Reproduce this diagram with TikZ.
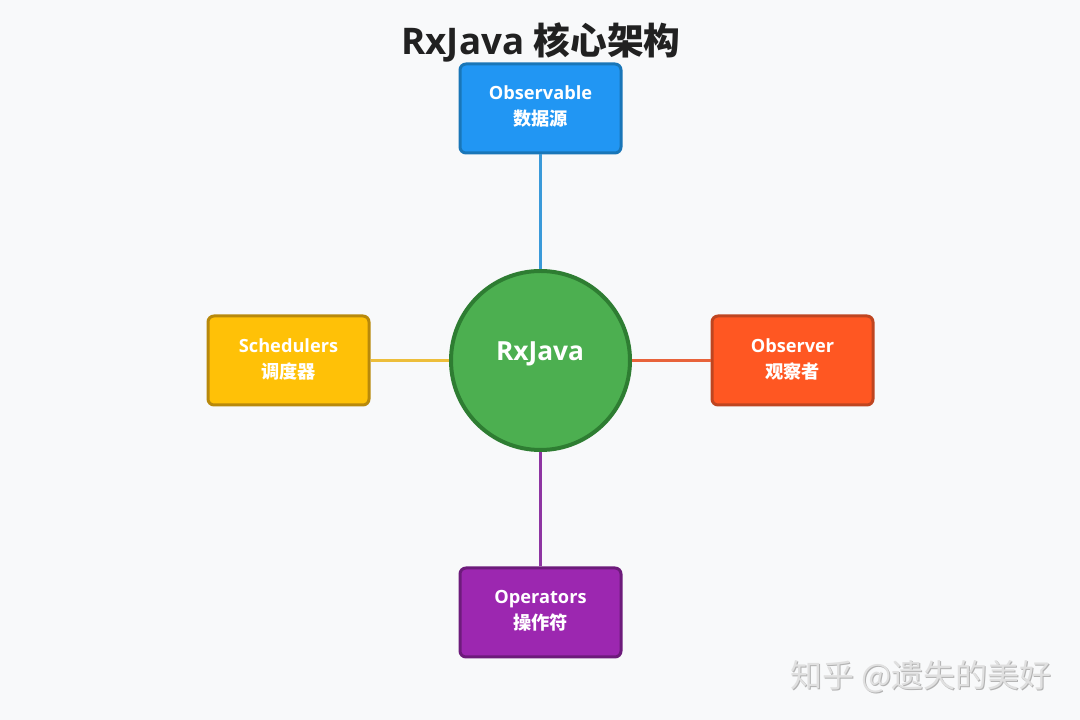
\documentclass[tikz,border=0pt]{standalone}
\usepackage{fontspec}
\setmainfont{Open Sans}
\newfontfamily\cjk{Noto Sans CJK SC}
\usetikzlibrary{positioning}
\definecolor{pagebg}{HTML}{F8F9FA}
\definecolor{titleink}{HTML}{212121}
\definecolor{hubfill}{HTML}{4CAF50}
\definecolor{hubline}{HTML}{2E7D32}
\definecolor{obsfill}{HTML}{2196F3}
\definecolor{obsline}{HTML}{1976B8}
\definecolor{obslink}{HTML}{3A9AD9}
\definecolor{schedfill}{HTML}{FFC107}
\definecolor{schedline}{HTML}{B8890B}
\definecolor{schedlink}{HTML}{EDBE3A}
\definecolor{obrfill}{HTML}{FF5722}
\definecolor{obrline}{HTML}{BF4520}
\definecolor{obrlink}{HTML}{E8633A}
\definecolor{opfill}{HTML}{9C27B0}
\definecolor{opline}{HTML}{6D1B7B}
\definecolor{oplink}{HTML}{8E35A2}
\tikzset{
  part/.style={rectangle, rounded corners=6pt, line width=3pt, minimum width=161pt, minimum height=89pt, inner sep=0pt},
  partlabel/.style={align=center, text=white, font=\fontsize{18.2}{26}\selectfont\bfseries, inner sep=0pt},
  link/.style={line width=3pt},
  marktext/.style={font=\cjk\fontsize{32}{38}\selectfont, inner sep=0pt}
}
\begin{document}
\begin{tikzpicture}
\path[use as bounding box, fill=pagebg] (0,0) rectangle (1080pt,720pt);
\node[circle, fill=hubfill, draw=hubline, line width=4pt, minimum size=179pt, inner sep=0pt] (hub) at (540.5pt,359.5pt) {};
\node[partlabel, font=\fontsize{26.3}{30}\selectfont\bfseries] (hubtext) at (540pt,366pt) {RxJava};
\node[part, fill=obsfill, draw=obsline, above=114.5pt of hub] (observable) {};
\node[part, fill=obrfill, draw=obrline, right=78.5pt of hub] (observer) {};
\node[part, fill=opfill, draw=opline, below=114.5pt of hub] (operators) {};
\node[part, fill=schedfill, draw=schedline, left=78.5pt of hub] (schedulers) {};
% labels sit a little above the box centres
\node[partlabel] (observabletext) at ([yshift=1.5pt]observable.center) {Observable\\{\cjk 数据源}};
\node[partlabel] (observertext) at ([yshift=1.5pt]observer.center) {Observer\\{\cjk 观察者}};
\node[partlabel] (operatorstext) at ([yshift=1.5pt]operators.center) {Operators\\{\cjk 操作符}};
\node[partlabel] (schedulerstext) at ([yshift=1.5pt]schedulers.center) {Schedulers\\{\cjk 调度器}};
\draw[link, draw=obslink] (observable) -- (hub);
\draw[link, draw=schedlink] (schedulers) -- (hub);
\draw[link, draw=obrlink] (observer) -- (hub);
\draw[link, draw=oplink] (operators) -- (hub);
\node[font=\fontsize{36.7}{42}\selectfont\bfseries, text=titleink, inner sep=0pt] (title) at (541pt,678pt) {RxJava {\cjk 核心架构}};
% watermark: a dark copy behind a pale one
\node[marktext, text=black!30] (markshadow) at (922pt,42.5pt) {知乎 @遗失的美好};
\node[marktext, text=black!12] (mark) at (921pt,43.5pt) {知乎 @遗失的美好};
\end{tikzpicture}
\end{document}
